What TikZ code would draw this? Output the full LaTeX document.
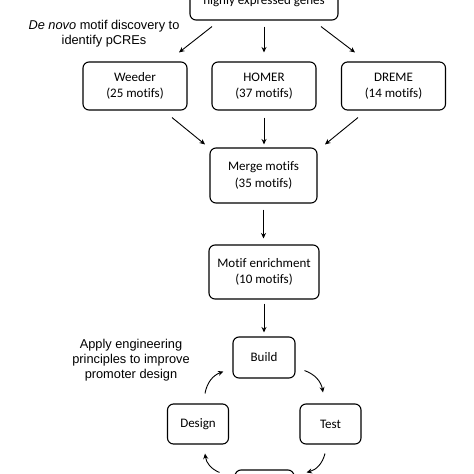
\documentclass[tikz,border=0pt]{standalone}
\usepackage{fontspec}
\setmainfont{Carlito}[Ligatures=NoCommon]
\newfontfamily\notefont{Liberation Sans}
\usetikzlibrary{arrows.meta}

\begin{document}
\begin{tikzpicture}[x=1pt, y=1pt, font=\fontsize{13}{16.5}\selectfont,
  p/.style={draw, line width=1.1pt, rounded corners=6pt, align=center, inner sep=0pt},
  arr/.style={-{Stealth[length=5.5pt, width=5pt]}, line width=0.9pt},
  note/.style={font=\notefont\fontsize{12.8}{15}\selectfont, align=center}
]
  \useasboundingbox (0,0) rectangle (474,-474);
  \clip (0,0) rectangle (474,-474);

  % discovery part
  \node[p, minimum width=148pt, minimum height=38pt] (genes) at (264,-1) {highly expressed genes};
  \node[p, minimum width=104pt, minimum height=48pt] (weeder) at (135,-86) {Weeder\\(25 motifs)};
  \node[p, minimum width=104pt, minimum height=48pt] (homer) at (264,-86) {HOMER\\(37 motifs)};
  \node[p, minimum width=104pt, minimum height=48pt] (dreme) at (393.5,-86) {DREME\\(14 motifs)};
  \node[p, minimum width=107pt, minimum height=55pt] (merge) at (263.5,-175.5) {Merge motifs\\(35 motifs)};
  \node[p, minimum width=110pt, minimum height=54pt] (enrich) at (264,-272) {Motif enrichment\\(10 motifs)};

  \node[note] (discnote) at (104,-34) {\textit{De novo} motif discovery to\\identify pCREs};

  \draw[arr] ([shift={(-52,-6)}]genes.south) -- ([shift={(44,9)}]weeder.north);
  \draw[arr, shorten <=6pt, shorten >=9pt] (genes.south) -- (homer.north);
  \draw[arr] ([shift={(57,-6)}]genes.south) -- ([shift={(-38.5,9)}]dreme.north);

  \draw[arr] ([shift={(37,-7)}]weeder.south) -- ([shift={(-58.5,3)}]merge.north);
  \draw[arr, shorten <=7pt, shorten >=3pt] (homer.south) -- (homer.south |- merge.north);
  \draw[arr] ([shift={(-35.5,-7)}]dreme.south) -- ([shift={(61.5,3)}]merge.north);

  \draw[arr, shorten <=6pt, shorten >=6pt] (merge.south) -- (merge.south |- enrich.north);

  % design cycle
  \node[p, minimum width=62pt, minimum height=41pt] (build) at (264,-357.5) {Build};
  \node[p, minimum width=61pt, minimum height=40pt] (test) at (330.5,-424) {Test};
  \node[p, minimum width=61pt, minimum height=40pt] (design) at (198,-424) {Design};
  \node[p, minimum width=59pt, minimum height=41pt] (learn) at (264.5,-490.5) {};

  \node[note] (engnote) at (131,-360) {Apply engineering\\principles to improve\\promoter design};

  \draw[arr, shorten <=4pt, shorten >=4pt] (enrich.south) -- (enrich.south |- build.north);

  \draw[arr] ([shift={(9,8)}]build.south east) to[bend left=30] ([shift={(-7.5,11)}]test.north);
  \draw[arr] ([shift={(-5.5,-9)}]test.south) to[bend left=30] ([shift={(12,-3)}]learn.north east);
  \draw[arr] ([shift={(-15,-3)}]learn.north west) to[bend left=30] ([shift={(7,-9)}]design.south);
  \draw[arr] ([shift={(7,10)}]design.north) to[bend left=30] ([shift={(-9,7)}]build.south west);
\end{tikzpicture}
\end{document}
